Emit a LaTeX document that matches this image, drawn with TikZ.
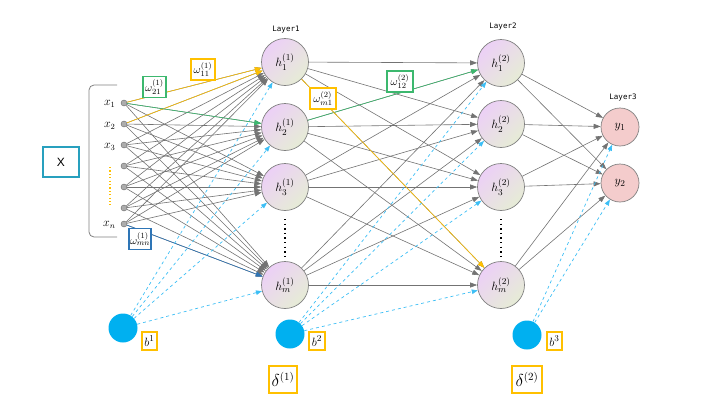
\documentclass[tikz,border=0pt]{standalone}
\usepackage{fontspec}
\setmonofont{DejaVu Sans Mono}
\setsansfont{Liberation Sans}
\usetikzlibrary{arrows.meta,shadings}
\definecolor{edgegray}{RGB}{115,115,115}
\definecolor{wor}{RGB}{255,192,0}
\definecolor{wgr}{RGB}{60,184,110}
\definecolor{wbl}{RGB}{46,117,182}
\definecolor{bcyan}{RGB}{0,176,240}
\definecolor{bdash}{RGB}{60,190,245}
\definecolor{xteal}{RGB}{40,160,190}
\definecolor{hidtop}{RGB}{236,208,246}
\definecolor{hidbot}{RGB}{230,236,214}
\definecolor{outfill}{RGB}{244,204,204}
\begin{document}
\begin{tikzpicture}[x=1pt,y=-1pt,
  hid/.style={circle, draw=gray, line width=0.7pt, minimum size=47pt, inner sep=0pt,
    top color=hidtop, bottom color=hidbot, shading angle=45, font=\fontsize{13}{15}\selectfont},
  outn/.style={circle, draw=gray, line width=0.7pt, minimum size=38pt, inner sep=0pt, fill=outfill,
    font=\fontsize{13}{15}\selectfont},
  inp/.style={circle, draw=gray!80!black, fill=gray!65, line width=0.4pt, minimum size=6pt, inner sep=0pt},
  biasn/.style={circle, fill=bcyan, minimum size=29pt, inner sep=0pt},
  edge/.style={draw=edgegray, line width=0.6pt, -{Triangle[length=7pt,width=5pt]}},
  bedge/.style={draw=bdash, dashed, line width=0.7pt, -{Triangle[length=6pt,width=4.5pt]}},
  wbox/.style={draw=#1, fill=white, line width=1.1pt, inner sep=0.5pt, minimum height=21pt,
    font=\fontsize{11}{13}\selectfont},
  lay/.style={font=\ttfamily\fontsize{7.5}{9}\selectfont},
  xl/.style={font=\fontsize{12}{14}\selectfont, anchor=east}
]
\useasboundingbox (0,0) rectangle (720,405);

% input layer
\node[inp] (i1) at (124,103) {};
\node[inp] (i2) at (124,124) {};
\node[inp] (i3) at (124,145) {};
\node[inp] (i4) at (124,166) {};
\node[inp] (i5) at (124,187) {};
\node[inp] (i6) at (124,208) {};
\node[inp] (i7) at (124,224) {};
\node[xl] (lx1) at (119,104) {$x_1$};
\node[xl] (lx2) at (119,126) {$x_2$};
\node[xl] (lx3) at (119,147) {$x_3$};
\node[xl] (lxn) at (119,225) {$x_n$};
\draw[wor, line width=1.2pt, dash pattern=on 1.2pt off 2.2pt] (110,167) -- (110,205);
\draw[gray, line width=0.8pt, rounded corners=5pt] (117,85) -- (89,85) -- (89,237) -- (117,237);
\node[draw=xteal, line width=1.2pt, minimum width=36pt, minimum height=30pt, font=\sffamily\fontsize{12}{14}\selectfont] (X) at (61,162) {X};

% hidden layer 1
\node[hid] (a1) at (285,62) {$h_1^{(1)}$};
\node[hid] (a2) at (285,127) {$h_2^{(1)}$};
\node[hid] (a3) at (285,187) {$h_3^{(1)}$};
\node[hid] (a4) at (285,285) {$h_m^{(1)}$};
\draw[black, line width=1.6pt, dash pattern=on 1.4pt off 3.2pt] (285,219) -- (285,256);
\node[lay] (L1) at (286,30) {Layer1};

% hidden layer 2
\node[hid] (c1) at (501,63) {$h_1^{(2)}$};
\node[hid] (c2) at (501,124) {$h_2^{(2)}$};
\node[hid] (c3) at (501,187) {$h_3^{(2)}$};
\node[hid] (c4) at (501,285) {$h_m^{(2)}$};
\draw[black, line width=1.6pt, dash pattern=on 1.4pt off 3.2pt] (501,219) -- (501,256);
\node[lay] (L2) at (503,26) {Layer2};

% output layer
\node[outn] (y1) at (620,127) {$y_1$};
\node[outn] (y2) at (620,183) {$y_2$};
\node[lay] (L3) at (623,97) {Layer3};

% bias nodes
\node[biasn] (b1) at (123,328) {};
\node[biasn] (b2) at (290,334) {};
\node[biasn] (b3) at (527,335) {};

% edges input -> hidden1
\foreach \i in {1,...,7} {
  \foreach \j in {1,...,4} {
    \draw[edge] (i\i) -- (a\j);
  }
}
% edges hidden1 -> hidden2
\foreach \i in {1,...,4} {
  \foreach \j in {1,...,4} {
    \draw[edge] (a\i) -- (c\j);
  }
}
% edges hidden2 -> output
\foreach \i in {1,...,4} {
  \foreach \j in {1,2} {
    \draw[edge] (c\i) -- (y\j);
  }
}
% coloured edges
\draw[edge, draw=wor] (i1) -- (a1);
\draw[edge, draw=wor] (i2) -- (a1);
\draw[edge, draw=wgr] (i1) -- (a2);
\draw[edge, draw=wbl] (i7) -- (a4);
\draw[edge, draw=wgr] (a2) -- (c1);
\draw[edge, draw=wor] (a1) -- (c4);

% bias edges
\foreach \j in {1,...,4} {
  \draw[bedge] (b1) -- (a\j);
  \draw[bedge] (b2) -- (c\j);
}
\draw[bedge] (b3) -- (y1);
\draw[bedge] (b3) -- (y2);

% weight labels
\node[wbox=wgr, minimum width=23pt] (w21) at (154.5,87) {$\omega_{21}^{(1)}$};
\node[wbox=wor, minimum width=24pt] (w11) at (203,69.5) {$\omega_{11}^{(1)}$};
\node[wbox=wor, minimum width=26pt] (wm1) at (323,98.5) {$\omega_{m1}^{(2)}$};
\node[wbox=wgr, minimum width=26pt] (w12) at (400,81.5) {$\omega_{12}^{(2)}$};
\node[wbox=wbl, minimum width=22pt] (wmn) at (140,239) {$\omega_{mn}^{(1)}$};

% bias labels
\node[wbox=wor, minimum height=18pt, minimum width=15pt, font=\fontsize{13}{15}\selectfont] (lb1) at (149.5,341) {$b^1$};
\node[wbox=wor, minimum height=18pt, minimum width=16pt, font=\fontsize{13}{15}\selectfont] (lb2) at (317,341) {$b^2$};
\node[wbox=wor, minimum height=18pt, minimum width=15pt, font=\fontsize{13}{15}\selectfont] (lb3) at (554.5,341) {$b^3$};
\node[wbox=wor, minimum height=27pt, minimum width=28pt, font=\fontsize{16}{18}\selectfont] (d1) at (283,379.5) {$\delta^{(1)}$};
\node[wbox=wor, minimum height=27pt, minimum width=30pt, font=\fontsize{16}{18}\selectfont] (d2) at (527,379.5) {$\delta^{(2)}$};
\end{tikzpicture}
\end{document}
